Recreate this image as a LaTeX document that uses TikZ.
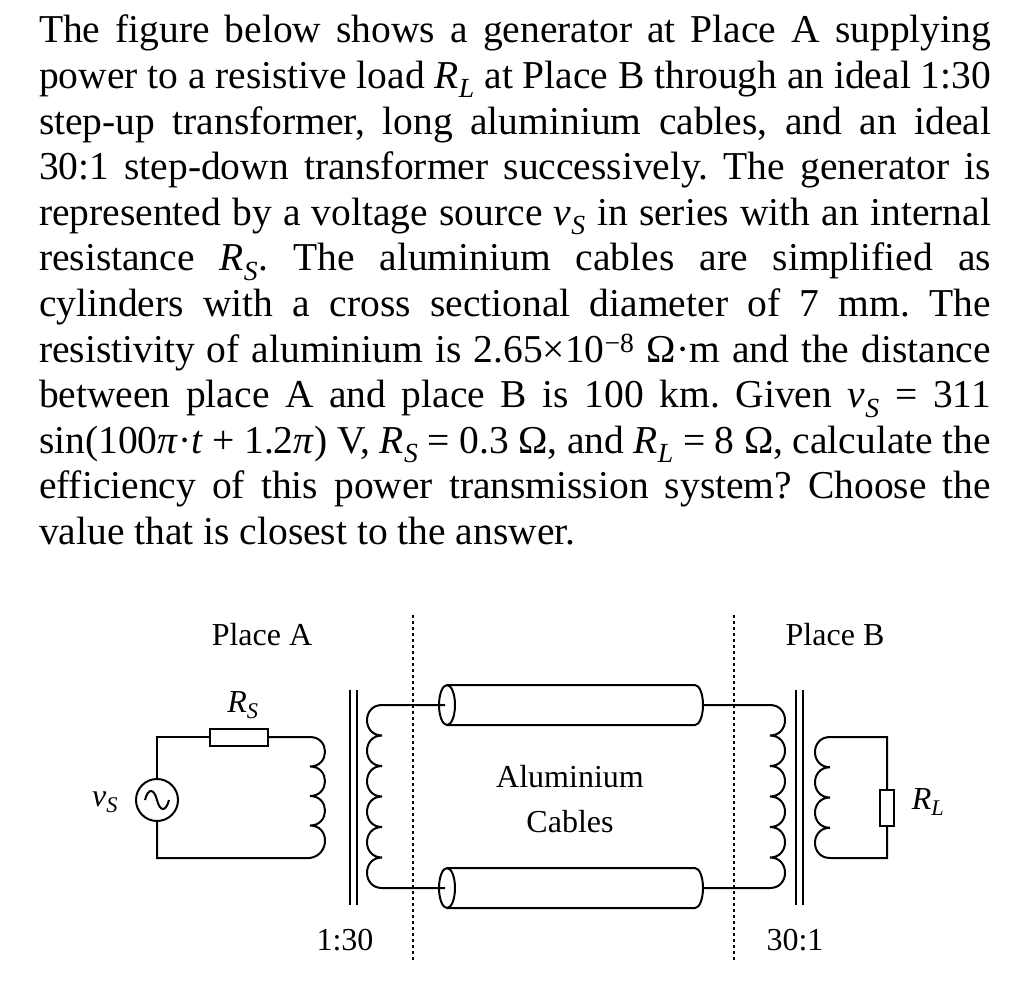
\documentclass[tikz,border=0pt]{standalone}
\usepackage{fontspec}
\setmainfont{Liberation Serif}
\newcommand{\iv}[2]{\textit{#1}\textsubscript{\textit{#2}}}
\begin{document}
\begin{tikzpicture}[x=1pt,y=-1pt,line width=2pt,
  lbl/.style={font=\fontsize{32}{36}\selectfont},
  core/.style={line width=2pt}]
\useasboundingbox (0,0) rectangle (1024,1000);
\node[anchor=north west,inner sep=0pt,text width=952pt,align=justify,
  font=\fontsize{39.5}{45.6}\selectfont] (para) at (38,14) {\frenchspacing\hyphenpenalty=10000\exhyphenpenalty=10000 The figure below shows a generator at Place A supplying\linebreak power to a resistive load \iv{R}{L} at Place B through an ideal 1:30\linebreak step-up transformer, long aluminium cables, and an ideal\linebreak 30:1 step-down transformer successively. The generator is\linebreak represented by a voltage source \iv{v}{S} in series with an internal\linebreak resistance \iv{R}{S}. The aluminium cables are simplified as\linebreak cylinders with a cross sectional diameter of 7 mm. The\linebreak resistivity of aluminium is 2.65×10\textsuperscript{−8} Ω·m and the distance\linebreak between place A and place B is 100 km. Given \iv{v}{S} = 311\linebreak sin(100\textit{π}·\textit{t} + 1.2\textit{π}) V, \iv{R}{S} = 0.3 Ω, and \iv{R}{L} = 8 Ω, calculate the\linebreak efficiency of this power transmission system? Choose the\linebreak value that is closest to the answer.};
% labels
\node[lbl] (pa) at (262,635) {Place A};
\node[lbl] (pb) at (835,635) {Place B};
\node[lbl] (rs) at (243,705) {\iv{R}{S}};
\node[lbl] (vs) at (105,802) {\iv{v}{S}};
\node[lbl] (rl) at (928,802) {\iv{R}{L}};
\node[lbl] (al) at (570,777) {Aluminium};
\node[lbl] (ca) at (570,822) {Cables};
\node[lbl] (t1) at (345,940) {1:30};
\node[lbl] (t2) at (795,940) {30:1};
% dashed separators
\draw[dashed,line width=1.4pt] (413,615) coordinate (d1) -- (413,962) coordinate (d2);
\draw[dashed,line width=1.4pt] (734,615) coordinate (d3) -- (734,962) coordinate (d4);
% source
\node[draw,circle,minimum size=42pt,inner sep=0pt] (src) at (157,800) {};
\draw (145,800) .. controls (148,788) and (154,788) .. (157,800) .. controls (160,812) and (166,812) .. (169,800);
\node[draw,minimum width=58pt,minimum height=17pt,inner sep=0pt] (rsb) at (239,737) {};
\draw (src.north) |- (rsb.west);
\draw (rsb.east) -- (310,737)
  .. controls (330,737) and (330,766.5) .. (310,766.5)
  .. controls (330,766.5) and (330,796) .. (310,796)
  .. controls (330,796) and (330,825.5) .. (310,825.5)
  .. controls (330,825.5) and (330,855) .. (310,858) -- (157,858) -- (src.south);
% core A
\draw[core] (350,690) -- (350,905);
\draw[core] (357,690) -- (357,905);
% secondary A
\draw (445,705) -- (382,705)
  \foreach \k in {0,...,5} { .. controls (362,705+30.5*\k) and (362,735.5+30.5*\k) .. (382,735.5+30.5*\k) }
  -- (445,888);
% cables
\foreach \yc/\nm in {705/c1,888/c2}{
  \draw (447,\yc-20) -- (695,\yc-20) arc[start angle=-90,end angle=90,x radius=8,y radius=20] -- (447,\yc+20);
  \draw (447,\yc) ellipse[x radius=8,y radius=20];
}
% secondary B
\draw (703,705) -- (770,705)
  \foreach \k in {0,...,5} { .. controls (790,705+30.5*\k) and (790,735.5+30.5*\k) .. (770,735.5+30.5*\k) }
  -- (703,888);
% core B
\draw[core] (796,690) -- (796,905);
\draw[core] (803,690) -- (803,905);
% load side
\node[draw,minimum width=14pt,minimum height=36pt,inner sep=0pt] (rlb) at (887,808) {};
\draw (rlb.north) |- (830,737)
  \foreach \k in {0,...,3} { .. controls (810,737+30.25*\k) and (810,767.25+30.25*\k) .. (830,767.25+30.25*\k) }
  -- (887,858) -- (rlb.south);
\end{tikzpicture}
\end{document}
